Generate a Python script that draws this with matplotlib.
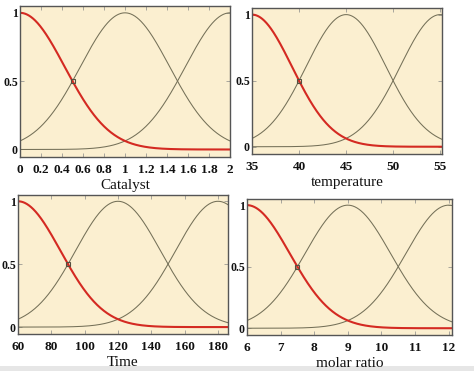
import numpy as np
import matplotlib
matplotlib.use("Agg")
import matplotlib.pyplot as plt
from matplotlib.patches import Rectangle

# ---- data ----
catalyst_centers = [0.0, 1.0, 2.0]
catalyst_ticks = [0, 0.2, 0.4, 0.6, 0.8, 1, 1.2, 1.4, 1.6, 1.8, 2]
catalyst_ticklabels = ["0", "0.2", "0.4", "0.6", "0.8", "1", "1.2", "1.4", "1.6", "1.8", "2"]
catalyst_xlim = [0, 2]

temperature_centers = [35.0, 45.0, 55.0]
temperature_ticks = [35, 40, 45, 50, 55]
temperature_ticklabels = ["35", "40", "45", "50", "55"]
temperature_xlim = [35, 55.2]

time_centers = [60.0, 120.0, 180.0]
time_ticks = [60, 80, 100, 120, 140, 160, 180]
time_ticklabels = ["60", "80", "100", "120", "140", "160", "180"]
time_xlim = [60, 186]

molar_centers = [6.0, 9.0, 12.0]
molar_ticks = [6, 7, 8, 9, 10, 11, 12]
molar_ticklabels = ["6", "7", "8", "9", "10", "11", "12"]
molar_xlim = [6, 12.1]

y_ticks = [0, 0.5, 1]
y_ticklabels = ["0", "0.5", "1"]

panels = [
    ("Catalyst", catalyst_centers, catalyst_ticks, catalyst_ticklabels, catalyst_xlim),
    ("temperature", temperature_centers, temperature_ticks, temperature_ticklabels, temperature_xlim),
    ("Time", time_centers, time_ticks, time_ticklabels, time_xlim),
    ("molar ratio", molar_centers, molar_ticks, molar_ticklabels, molar_xlim),
]

# ---- layout / style ----
W, H = 474, 371
rects_px = [(20, 6, 230, 157), (252, 8, 442, 154), (18, 195, 228, 334), (247, 199, 452, 335)]
BG = "#fbefd0"
GRAY = "#747058"
RED = "#d42a22"
xtick_font = dict(family="Liberation Serif", weight="bold", size=9.5)
ytick_font = dict(family="Liberation Serif", weight="bold", size=8.5)
label_font = dict(family="Liberation Serif", size=11)

fig = plt.figure(figsize=(W / 100, H / 100), dpi=100)
fig.patch.set_facecolor("white")

for (name, centers, xt, xtl, xl), (l, t, r, b) in zip(panels, rects_px):
    ax = fig.add_axes([l / W, (H - b) / H, (r - l) / W, (b - t) / H])
    ax.set_facecolor(BG)
    sigma = (centers[1] - centers[0]) / 2 / np.sqrt(2 * np.log(2))
    x = np.linspace(xl[0], xl[1], 500)
    for c in centers[1:]:
        ax.plot(x, np.exp(-((x - c) ** 2) / (2 * sigma ** 2)), color=GRAY, lw=0.75)
    ax.plot(x, np.exp(-((x - centers[0]) ** 2) / (2 * sigma ** 2)), color=RED, lw=1.5)
    xc = (centers[0] + centers[1]) / 2
    ax.plot([xc], [0.5], marker="s", ms=3, mfc="none", mec="#555040", mew=0.8)
    ax.set_xlim(xl)
    ax.set_ylim(-0.055, 1.05)
    ax.set_xticks(xt)
    ax.set_xticklabels(xtl, **xtick_font)
    ax.set_yticks(y_ticks)
    ax.set_yticklabels(y_ticklabels, **ytick_font)
    ax.tick_params(direction="in", length=3, width=0.5, color="#888", top=True, right=True,
                   labelcolor="#111")
    ax.tick_params(axis="x", pad=5)
    ax.tick_params(axis="y", pad=1.5)
    for s in ax.spines.values():
        s.set_color("#555")
        s.set_linewidth(1.0)
    ax.set_xlabel(name, labelpad=2, color="#111", **label_font)

fig.patches.append(Rectangle((0, 0), 1, 5 / H, transform=fig.transFigure,
                             facecolor="#e6e6e6", edgecolor="none", zorder=-1))
fig.savefig("out.png", dpi=100, facecolor="white")
